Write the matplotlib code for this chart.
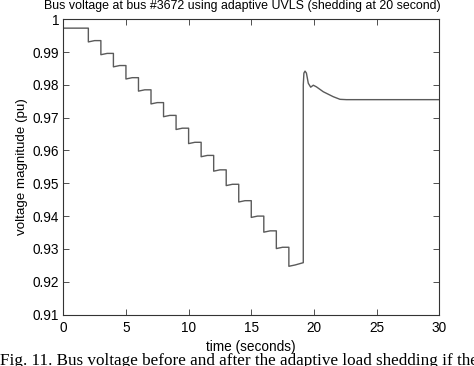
import numpy as np
import matplotlib
matplotlib.use("Agg")
import matplotlib.pyplot as plt

plt.rcParams['font.family'] = ['Liberation Sans', 'DejaVu Sans']

# Voltage before the load starts to rise (pu)
initial_voltage = 0.9973

# Staircase while load increases: step times (s) and settled level after each step (pu)
step_times = [2, 3, 4, 5, 6, 7, 8, 9, 10, 11, 12, 13, 14, 15, 16, 17, 18]
step_levels = [0.9935, 0.9896, 0.9859, 0.9822, 0.9785, 0.9746, 0.9707, 0.9668,
               0.9625, 0.9585, 0.9541, 0.9497, 0.9447, 0.9400, 0.9355, 0.9305, 0.9251]
step_dip = 0.0004  # undershoot right after each step

# Response after adaptive load shedding
post_t = [19.15, 19.15, 19.2, 19.29, 19.4, 19.55, 19.74, 19.95, 20.2, 20.75,
          21.54, 22.08, 22.6, 25.0, 30.0]
post_v = [0.9258, 0.9800, 0.9836, 0.9842, 0.9836, 0.9805, 0.9793, 0.9799, 0.9794, 0.9779,
          0.9764, 0.9756, 0.9755, 0.9755, 0.9755]

title = "Bus voltage at bus #3672 using adaptive UVLS (shedding at 20 second)"
caption = "Fig. 11. Bus voltage before and after the adaptive load shedding if the"

# build the trace
t = [0.0]
v = [initial_voltage]
prev = initial_voltage
for ts, lv in zip(step_times, step_levels):
    t += [ts, ts, ts + 0.5]
    v += [prev, lv - step_dip, lv]
    prev = lv
t += post_t
v += post_v

fig = plt.figure(figsize=(4.74, 3.66), dpi=100)
ax = fig.add_axes([0.1335, 0.1407, 0.7932, 0.8066])

ax.plot(t, v, color='#5a5a5a', linewidth=1.0)

ax.set_xlim(0, 30)
ax.set_ylim(0.91, 1.0)
ax.set_xticks([0, 5, 10, 15, 20, 25, 30])
ax.set_yticks(np.round(np.arange(0.91, 1.001, 0.01), 2))
ax.set_yticklabels(['0.91', '0.92', '0.93', '0.94', '0.95', '0.96', '0.97', '0.98', '0.99', '1'])

ax.tick_params(direction='in', length=4, width=0.6, top=True, right=True,
               labelsize=9.8, colors='#333333', labelcolor='black')
ax.tick_params(axis='x', pad=5)
ax.tick_params(axis='y', pad=3)
for s in ax.spines.values():
    s.set_linewidth(0.8)
    s.set_color('#333333')

fig.text(242.5 / 474, 1 - 9.5 / 366, title, fontsize=8.9, ha='center', va='baseline')
ax.set_xlabel("time (seconds)", fontsize=9.8, labelpad=3)
ax.set_ylabel("voltage magnitude (pu)", fontsize=9.6, labelpad=3)

fig.text(0.0, 1 - 365 / 366, caption, family=['Liberation Serif', 'DejaVu Serif'],
         fontsize=12.3, va='baseline', ha='left')

fig.savefig("out.png", dpi=100)
